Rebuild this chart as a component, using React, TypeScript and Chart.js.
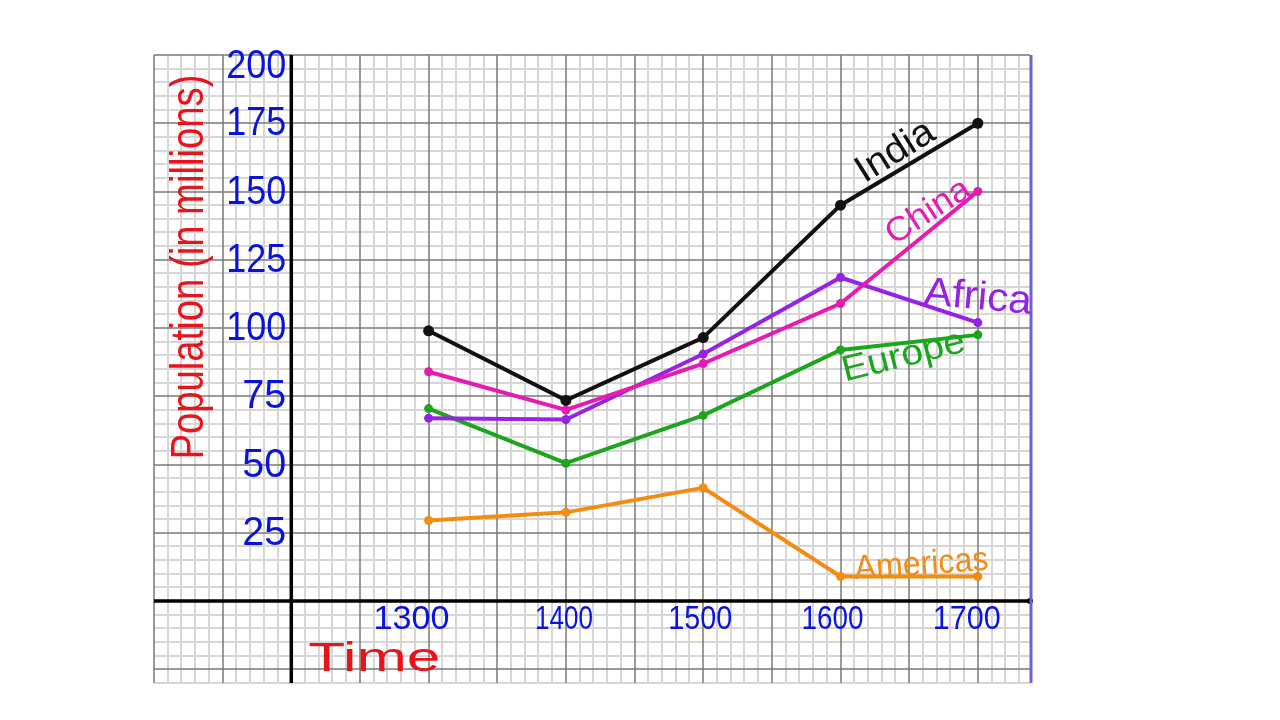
import React, { useEffect, useRef } from "react";
import { Chart, registerables } from "chart.js";

Chart.register(...registerables);

// ---- Data (millions of people) ----
const years = [1300, 1400, 1500, 1600, 1700];
const india = [99, 73.5, 96.5, 145, 175];
const china = [84, 70, 87, 109, 150];
const africa = [67, 66.5, 90.5, 118.5, 102];
const europe = [70.5, 50.5, 68, 92, 97.5];
const americas = [29.5, 32.5, 41.5, 9, 9];
const seriesNames = ["India", "China", "Africa", "Europe", "Americas"];
const yTickLabels = [25, 50, 75, 100, 125, 150, 175, 200];
const xTickLabels = [1300, 1400, 1500, 1600, 1700];
const yTitle = "Population (in millions)";
const xTitle = "Time";

const seriesValues = [india, china, africa, europe, americas];
const seriesColors = ["#111111", "#e41cb4", "#9622e6", "#1da51d", "#f28c14"];

// label anchors in data units (year, value), angle in degrees, fitted width, font size
const seriesLabelStyle = [
  { x: 1640, y: 164.5, angle: -32, width: 86, size: 38 },
  { x: 1664, y: 142.5, angle: -33, width: 94, size: 34 },
  { x: 1700, y: 111, angle: 5, width: 108, size: 40 },
  { x: 1646, y: 89.5, angle: -14, width: 126, size: 36 },
  { x: 1659, y: 13.2, angle: -4, width: 134, size: 34 },
];

// hand-placed shifts of the x tick labels relative to their grid line (px) and widths
const xLabelShift = [-17, -2, -3, -8, -11];
const xLabelWidth = [76, 58, 64, 62, 68];

const X_MIN = 1100;
const X_MAX = 1738;
const Y_MIN = -30;
const Y_MAX = 200;
const X_MINOR = 10;
const X_MAJOR = 50;
const Y_MINOR = 5;
const Y_MAJOR = 25;

const FONT = '"Liberation Sans", Arial, sans-serif';
const BLUE = "#0a12dc";
const RED = "#e8141c";

function drawFitted(
  ctx: CanvasRenderingContext2D,
  text: string,
  cx: number,
  cy: number,
  width: number,
  size: number,
  angle: number,
  color: string
) {
  ctx.save();
  ctx.translate(cx, cy);
  ctx.rotate((angle * Math.PI) / 180);
  ctx.font = `${size}px ${FONT}`;
  const w = ctx.measureText(text).width;
  ctx.scale(width / w, 1);
  ctx.fillStyle = color;
  ctx.textAlign = "center";
  ctx.textBaseline = "middle";
  ctx.fillText(text, 0, 0);
  ctx.restore();
}

const paperPlugin = {
  id: "paper",
  beforeDatasetsDraw(chart: any) {
    const { ctx, chartArea: a, scales } = chart;
    const xs = scales.x;
    const ys = scales.y;
    ctx.save();
    const drawSet = (major: boolean) => {
      ctx.beginPath();
      for (let v = X_MIN; v <= X_MAX + 0.01; v += X_MINOR) {
        const isMajor = v % X_MAJOR === 0;
        if (isMajor !== major) continue;
        const px = Math.round(xs.getPixelForValue(v));
        ctx.moveTo(px, a.top);
        ctx.lineTo(px, a.bottom);
      }
      for (let v = Y_MIN; v <= Y_MAX + 0.01; v += Y_MINOR) {
        const isMajor = v % Y_MAJOR === 0;
        if (isMajor !== major) continue;
        const py = Math.round(ys.getPixelForValue(v));
        ctx.moveTo(a.left, py);
        ctx.lineTo(a.right, py);
      }
      ctx.stroke();
    };
    ctx.strokeStyle = "#d6d6d6";
    ctx.lineWidth = 2;
    drawSet(false);
    ctx.strokeStyle = "#7a7a7a";
    ctx.lineWidth = 1.5;
    drawSet(true);

    // axes
    const x0 = xs.getPixelForValue(1200);
    const y0 = ys.getPixelForValue(0);
    ctx.strokeStyle = "#000";
    ctx.lineWidth = 3.5;
    ctx.beginPath();
    ctx.moveTo(x0, a.top);
    ctx.lineTo(x0, a.bottom);
    ctx.moveTo(a.left, y0);
    ctx.lineTo(a.right, y0);
    ctx.stroke();
    ctx.fillStyle = "#000";
    ctx.beginPath();
    ctx.arc(a.right, y0, 3, 0, Math.PI * 2);
    ctx.fill();
    // right border
    ctx.strokeStyle = "#6a64d2";
    ctx.lineWidth = 3;
    ctx.beginPath();
    ctx.moveTo(a.right + 1, a.top);
    ctx.lineTo(a.right + 1, a.bottom);
    ctx.stroke();
    ctx.restore();
  },
  afterDatasetsDraw(chart: any) {
    const { ctx, chartArea: a, scales } = chart;
    const xs = scales.x;
    const ys = scales.y;
    const x0 = xs.getPixelForValue(1200);
    const y0 = ys.getPixelForValue(0);
    // y tick labels
    yTickLabels.forEach((v) => {
      const s = String(v);
      const w = s.length === 3 ? 60 : 44;
      let py = ys.getPixelForValue(v) + 1;
      if (py < a.top + 12) py = a.top + 12;
      drawFitted(ctx, s, x0 - 5 - w / 2, py, w, 40, 0, BLUE);
    });
    // x tick labels
    xTickLabels.forEach((v, i) => {
      const px = xs.getPixelForValue(v) + xLabelShift[i];
      drawFitted(ctx, String(v), px, y0 + 19, xLabelWidth[i], 34, 0, BLUE);
    });
    // axis titles
    drawFitted(ctx, yTitle, x0 - 101, (a.top + y0) / 2 - 61, 385, 46, -90, RED);
    drawFitted(ctx, xTitle, x0 + 83, y0 + 59, 132, 40, 0, RED);
    // series labels
    seriesNames.forEach((name, i) => {
      const st = seriesLabelStyle[i];
      drawFitted(
        ctx,
        name,
        xs.getPixelForValue(st.x),
        ys.getPixelForValue(st.y),
        st.width,
        st.size,
        st.angle,
        seriesColors[i]
      );
    });
  },
};

export default function App() {
  const ref = useRef<HTMLCanvasElement | null>(null);

  useEffect(() => {
    if (!ref.current) return;
    const chart = new Chart(ref.current, {
      type: "line",
      data: {
        datasets: seriesNames.map((name, i) => ({
          label: name,
          data: years.map((x, j) => ({ x, y: seriesValues[i][j] })),
          borderColor: seriesColors[i],
          backgroundColor: seriesColors[i],
          borderWidth: 4,
          pointRadius: i === 0 ? 5.5 : 4.5,
          pointBorderWidth: 0,
          tension: 0,
          fill: false,
        })),
      },
      options: {
        responsive: false,
        animation: false,
        devicePixelRatio: 1,
        layout: { padding: { left: 154, right: 250, top: 55, bottom: 37 } },
        plugins: {
          legend: { display: false },
          tooltip: { enabled: false },
          title: { display: false },
        },
        scales: {
          x: {
            type: "linear",
            min: X_MIN,
            max: X_MAX,
            ticks: { display: false, stepSize: 50 },
            border: { display: false },
            grid: { display: false, drawTicks: false },
          },
          y: {
            type: "linear",
            min: Y_MIN,
            max: Y_MAX,
            ticks: { display: false, stepSize: 25 },
            border: { display: false },
            grid: { display: false, drawTicks: false },
          },
        },
      },
      plugins: [paperPlugin],
    });
    return () => chart.destroy();
  }, []);

  return (
    <div
      style={{
        position: "fixed",
        left: 0,
        top: 0,
        width: 1280,
        height: 720,
        background: "#ffffff",
      }}
    >
      <canvas ref={ref} width={1280} height={720} />
    </div>
  );
}
